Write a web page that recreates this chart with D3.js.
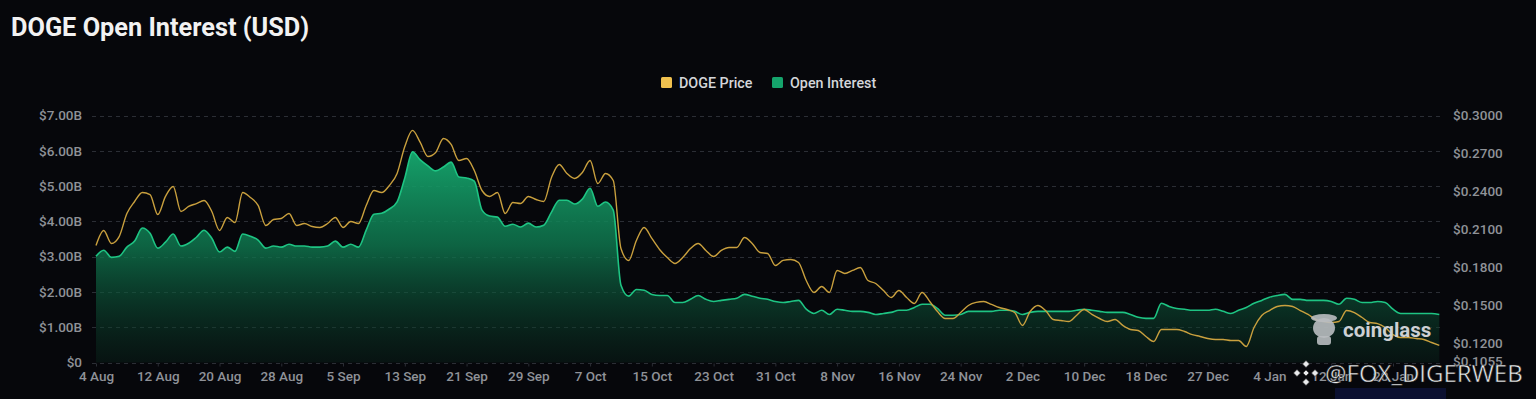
<!DOCTYPE html>
<html>
<head>
<meta charset="utf-8">
<script src="https://cdn.jsdelivr.net/npm/d3@7"></script>
<style>
  html, body { margin: 0; padding: 0; background: #06070b; }
  svg { display: block; }
</style>
</head>
<body>
<svg id="chart" width="1536" height="399"></svg>
<script>
// ---------------- DATA ----------------
const tickLabels = ["4 Aug","12 Aug","20 Aug","28 Aug","5 Sep","13 Sep","21 Sep","29 Sep","7 Oct","15 Oct","23 Oct","31 Oct","8 Nov","16 Nov","24 Nov","2 Dec","10 Dec","18 Dec","27 Dec","4 Jan","12 Jan","20 Jan"];
const tickEvery = 8;

// Open interest, billions USD (one value per point)
const openInterest = [
  3.01,3.18,2.98,3.01,3.27,3.44,3.81,3.66,3.24,3.41,
  3.64,3.30,3.38,3.55,3.75,3.52,3.13,3.27,3.15,3.64,
  3.58,3.47,3.24,3.30,3.27,3.35,3.30,3.30,3.27,3.27,
  3.30,3.44,3.27,3.35,3.27,3.75,4.20,4.23,4.35,4.55,
  5.23,5.97,5.74,5.57,5.43,5.54,5.68,5.26,5.23,5.14,
  4.32,4.15,4.12,3.86,3.92,3.84,3.95,3.84,3.89,4.26,
  4.60,4.60,4.49,4.63,4.94,4.43,4.55,4.32,2.19,1.88,
  2.07,2.05,1.93,1.90,1.90,1.70,1.70,1.79,1.90,1.79,
  1.73,1.76,1.79,1.82,1.93,1.88,1.82,1.79,1.73,1.70,
  1.73,1.76,1.51,1.39,1.48,1.36,1.51,1.48,1.45,1.45,
  1.42,1.36,1.39,1.42,1.48,1.48,1.56,1.65,1.65,1.53,
  1.34,1.34,1.36,1.45,1.45,1.45,1.45,1.48,1.48,1.45,
  1.36,1.42,1.45,1.45,1.45,1.45,1.45,1.48,1.51,1.48,
  1.45,1.42,1.42,1.42,1.36,1.28,1.25,1.25,1.68,1.59,
  1.53,1.51,1.48,1.48,1.48,1.51,1.45,1.39,1.48,1.56,
  1.68,1.76,1.85,1.90,1.93,1.79,1.79,1.76,1.76,1.76,
  1.73,1.65,1.82,1.79,1.70,1.70,1.73,1.70,1.51,1.39,
  1.39,1.39,1.39,1.39,1.36
];

// DOGE price, USD
const dogePrice = [
  0.1972,0.2091,0.1988,0.2043,0.2225,0.2320,0.2391,0.2375,0.2217,0.2360,
  0.2439,0.2241,0.2281,0.2304,0.2328,0.2241,0.2091,0.2194,0.2154,0.2391,
  0.2352,0.2289,0.2130,0.2178,0.2186,0.2225,0.2130,0.2146,0.2122,0.2115,
  0.2146,0.2194,0.2115,0.2162,0.2146,0.2289,0.2407,0.2391,0.2447,0.2542,
  0.2755,0.2882,0.2787,0.2676,0.2708,0.2818,0.2771,0.2644,0.2660,0.2565,
  0.2407,0.2360,0.2391,0.2225,0.2312,0.2304,0.2360,0.2336,0.2320,0.2510,
  0.2613,0.2542,0.2502,0.2549,0.2644,0.2462,0.2542,0.2486,0.1948,0.1854,
  0.2012,0.2115,0.2028,0.1941,0.1877,0.1830,0.1877,0.1948,0.1988,0.1933,
  0.1885,0.1933,0.1956,0.1956,0.2035,0.1988,0.1917,0.1909,0.1814,0.1854,
  0.1862,0.1838,0.1695,0.1601,0.1648,0.1601,0.1775,0.1751,0.1775,0.1798,
  0.1695,0.1672,0.1616,0.1561,0.1616,0.1561,0.1514,0.1601,0.1529,0.1450,
  0.1395,0.1395,0.1442,0.1498,0.1522,0.1529,0.1506,0.1482,0.1466,0.1442,
  0.1340,0.1450,0.1498,0.1458,0.1387,0.1379,0.1371,0.1419,0.1466,0.1427,
  0.1395,0.1371,0.1387,0.1340,0.1308,0.1300,0.1253,0.1213,0.1308,0.1308,
  0.1308,0.1292,0.1268,0.1253,0.1237,0.1229,0.1229,0.1221,0.1221,0.1174,
  0.1324,0.1419,0.1458,0.1490,0.1498,0.1490,0.1458,0.1427,0.1387,0.1371,
  0.1363,0.1371,0.1458,0.1442,0.1403,0.1363,0.1355,0.1324,0.1268,0.1245,
  0.1245,0.1237,0.1229,0.1205,0.1182
];

const oiTicks = [0,1,2,3,4,5,6,7];
const priceTicks = [0.1055,0.12,0.15,0.18,0.21,0.24,0.27,0.30];
const priceDomain = [0.1055, 0.30];
const oiDomain = [0, 7];

// ---------------- CHART ----------------
const svg = d3.select("#chart");
const W = 1536, H = 399;
const plot = { left: 96, right: 1439.3, top: 115.5, bottom: 362.5 };
const gridLeft = 92, gridRight = 1441;

const n = openInterest.length;
const x = d3.scaleLinear().domain([0, n - 1]).range([plot.left, plot.right]);
const yOI = d3.scaleLinear().domain(oiDomain).range([plot.bottom, plot.top]);
const yP = d3.scaleLinear().domain(priceDomain).range([plot.bottom - 1, plot.top]);

svg.append("rect").attr("width", W).attr("height", H).attr("fill", "#06070b");

const font = "Roboto, 'Noto Sans', Arial, sans-serif";
const axisColor = "#8f9298";
const axisSize = 13.5;

// Title
svg.append("text")
  .attr("x", 11).attr("y", 36)
  .attr("fill", "#f2f2f2")
  .attr("font-family", font)
  .attr("font-weight", 700)
  .attr("font-size", 25.3)
  .text("DOGE Open Interest (USD)");

// Legend
const legend = svg.append("g").attr("font-family", font).attr("font-size", 14.3).attr("font-weight", 500);
const legendItems = [
  { label: "DOGE Price", color: "#f0c14f", x: 661 },
  { label: "Open Interest", color: "#15a46c", x: 772 }
];
legendItems.forEach(it => {
  legend.append("rect").attr("x", it.x).attr("y", 77).attr("width", 11).attr("height", 11)
    .attr("rx", 1.5).attr("fill", it.color);
  legend.append("text").attr("x", it.x + 18).attr("y", 87.5).attr("fill", "#d4d6da").text(it.label);
});

// Gridlines (left axis)
const grid = svg.append("g");
grid.selectAll("line").data(oiTicks).join("line")
  .attr("x1", gridLeft).attr("x2", gridRight)
  .attr("y1", d => Math.round(yOI(d)) + 0.5).attr("y2", d => Math.round(yOI(d)) + 0.5)
  .attr("stroke", "#2b2e35").attr("stroke-width", 1).attr("stroke-dasharray", "4,4");

// Left axis labels
const fmtB = d => d === 0 ? "$0" : "$" + d.toFixed(2) + "B";
const leftAxis = d3.axisLeft(yOI).tickValues(oiTicks).tickFormat(fmtB).tickSize(0).tickPadding(0);
const gL = svg.append("g").attr("transform", `translate(82,0)`).call(leftAxis);
gL.select(".domain").remove();
gL.selectAll("text").attr("fill", axisColor).attr("font-family", font).attr("font-size", axisSize).attr("font-weight", 500);

// Right axis labels
const fmtP = d => "$" + d.toFixed(4);
const rightAxis = d3.axisRight(yP).tickValues(priceTicks).tickFormat(fmtP).tickSize(0).tickPadding(0);
const gR = svg.append("g").attr("transform", `translate(1453,0)`).call(rightAxis);
gR.select(".domain").remove();
gR.selectAll("text").attr("fill", axisColor).attr("font-family", font).attr("font-size", axisSize).attr("font-weight", 500);

// Bottom axis
const xTickIdx = tickLabels.map((_, i) => i * tickEvery);
const bottomAxis = d3.axisBottom(x).tickValues(xTickIdx)
  .tickFormat((d, i) => tickLabels[i]).tickSize(3).tickPadding(5);
const gB = svg.append("g").attr("transform", `translate(0,${Math.round(plot.bottom) + 0.5})`).call(bottomAxis);
gB.select(".domain").remove();
gB.selectAll("line").attr("stroke", "#2b2e35");
gB.selectAll("text").attr("fill", axisColor).attr("font-family", font).attr("font-size", axisSize).attr("font-weight", 500);

// Area gradient
const defs = svg.append("defs");
const grad = defs.append("linearGradient").attr("id", "oiGrad")
  .attr("gradientUnits", "userSpaceOnUse")
  .attr("x1", 0).attr("x2", 0).attr("y1", yOI(6)).attr("y2", plot.bottom);
grad.append("stop").attr("offset", "0%").attr("stop-color", "#16a96f").attr("stop-opacity", 0.95);
grad.append("stop").attr("offset", "45%").attr("stop-color", "#0f7a50").attr("stop-opacity", 0.8);
grad.append("stop").attr("offset", "100%").attr("stop-color", "#0a2a1e").attr("stop-opacity", 0.35);

const area = d3.area()
  .x((d, i) => x(i)).y0(plot.bottom).y1(d => yOI(d))
  .curve(d3.curveMonotoneX);
svg.append("path").datum(openInterest).attr("d", area).attr("fill", "url(#oiGrad)");

const oiLine = d3.line().x((d, i) => x(i)).y(d => yOI(d)).curve(d3.curveMonotoneX);
svg.append("path").datum(openInterest).attr("d", oiLine)
  .attr("fill", "none").attr("stroke", "#1ec483").attr("stroke-width", 1.6);

const pLine = d3.line().x((d, i) => x(i)).y(d => yP(d)).curve(d3.curveMonotoneX);
svg.append("path").datum(dogePrice).attr("d", pLine)
  .attr("fill", "none").attr("stroke", "#c9a03e").attr("stroke-width", 1.4);

// Watermark: coinglass
const wm = svg.append("g");
wm.append("ellipse").attr("cx", 1324).attr("cy", 328).attr("rx", 11).attr("ry", 10).attr("fill", "#b9bcc0").attr("opacity", 0.9);
wm.append("ellipse").attr("cx", 1324).attr("cy", 318).attr("rx", 13).attr("ry", 4).attr("fill", "#b9bcc0").attr("opacity", 0.9);
wm.append("rect").attr("x", 1317).attr("y", 336).attr("width", 14).attr("height", 9).attr("rx", 3).attr("fill", "#b9bcc0").attr("opacity", 0.9);
wm.append("text").attr("x", 1343).attr("y", 337)
  .attr("fill", "#cdd0d3").attr("font-family", font).attr("font-weight", 700).attr("font-size", 20.5)
  .text("coinglass");

// Dark navy strip at the bottom
svg.append("rect").attr("x", 1335).attr("y", 388).attr("width", 111).attr("height", 11).attr("fill", "#0b1030");

// Watermark: @FOX_DIGERWEB
const bn = svg.append("g").attr("fill", "#e9eaec").attr("stroke", "#222").attr("stroke-width", 0.6);
const cx = 1306, cy = 373;
const diamond = (px, py, s) => `M${px},${py - s}L${px + s},${py}L${px},${py + s}L${px - s},${py}Z`;
bn.append("path").attr("d", diamond(cx, cy - 9, 3.5));
bn.append("path").attr("d", diamond(cx - 9, cy, 3.5));
bn.append("path").attr("d", diamond(cx + 9, cy, 3.5));
bn.append("path").attr("d", diamond(cx, cy + 9, 3.5));
bn.append("path").attr("d", diamond(cx, cy, 3));
svg.append("text").attr("x", 1325).attr("y", 382)
  .attr("fill", "#eceef0").attr("stroke", "#1a1a1a").attr("stroke-width", 0.5)
  .attr("font-family", "'Open Sans', 'Noto Sans', sans-serif").attr("font-weight", 400).attr("font-size", 24)
  .text("@FOX_DIGERWEB");
</script>
</body>
</html>
